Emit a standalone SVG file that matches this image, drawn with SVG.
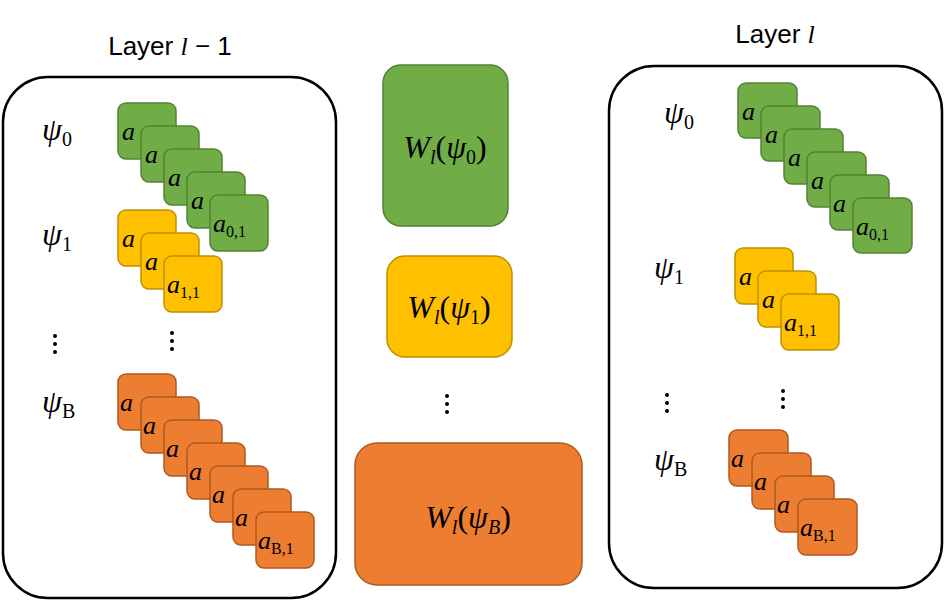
<svg xmlns="http://www.w3.org/2000/svg" width="947" height="606" viewBox="0 0 947 606">
<style>
.panel{fill:#fff;stroke:#000;stroke-width:2.5}
.g{fill:#70AD47;stroke:#548235;stroke-width:1.5}
.y{fill:#FFC000;stroke:#BF9000;stroke-width:1.5}
.o{fill:#ED7D31;stroke:#AE5A21;stroke-width:1.5}
.m{font-family:"Liberation Serif","DejaVu Serif",serif;font-style:italic;fill:#000}
.s{font-family:"Liberation Serif","DejaVu Serif",serif;font-style:normal}
.t{font-family:"Liberation Sans",Arial,sans-serif;font-size:26px;fill:#000}
.a{font-size:26px}
.p{font-size:32px}
.d{fill:#000}
</style>
<defs>
<g id="dots"><circle cx="0" cy="0" r="2"/><circle cx="0" cy="8" r="2"/><circle cx="0" cy="16" r="2"/></g>
</defs>
<g id="connectors"></g>
<g id="layer-prev">
<rect class="panel" x="3" y="77" width="333" height="521" rx="45"/>
<text class="t" x="170" y="55" text-anchor="middle">Layer <tspan class="m">l</tspan> − 1</text>
<text class="m p" x="42" y="140">ψ<tspan class="s" font-size="20" dy="6">0</tspan></text>
<text class="m p" x="42" y="245">ψ<tspan class="s" font-size="20" dy="6">1</tspan></text>
<text class="m p" x="42" y="412">ψ<tspan class="s" font-size="20" dy="6">B</tspan></text>
<use href="#dots" x="55" y="336" class="d"/>
<use href="#dots" x="172" y="333" class="d"/>
<g id="prev-green">
<rect class="g" x="118" y="103" width="58" height="56" rx="8"/><text class="m a" x="122" y="140">a</text>
<rect class="g" x="141" y="126" width="58" height="56" rx="8"/><text class="m a" x="145" y="163">a</text>
<rect class="g" x="164" y="149" width="58" height="56" rx="8"/><text class="m a" x="168" y="186">a</text>
<rect class="g" x="187" y="172" width="58" height="56" rx="8"/><text class="m a" x="191" y="209">a</text>
<rect class="g" x="210" y="195" width="58" height="56" rx="8"/><text class="m a" x="213" y="232">a<tspan class="s" font-size="16" dy="5">0,1</tspan></text>
</g>
<g id="prev-yellow">
<rect class="y" x="118" y="210" width="58" height="56" rx="8"/><text class="m a" x="122" y="247">a</text>
<rect class="y" x="141" y="233" width="58" height="56" rx="8"/><text class="m a" x="145" y="270">a</text>
<rect class="y" x="164" y="256" width="58" height="56" rx="8"/><text class="m a" x="167" y="293">a<tspan class="s" font-size="16" dy="5">1,1</tspan></text>
</g>
<g id="prev-orange">
<rect class="o" x="118" y="374" width="58" height="56" rx="8"/><text class="m a" x="120" y="411">a</text>
<rect class="o" x="141" y="397" width="58" height="56" rx="8"/><text class="m a" x="143" y="434">a</text>
<rect class="o" x="164" y="420" width="58" height="56" rx="8"/><text class="m a" x="166" y="457">a</text>
<rect class="o" x="187" y="443" width="58" height="56" rx="8"/><text class="m a" x="189" y="480">a</text>
<rect class="o" x="210" y="466" width="58" height="56" rx="8"/><text class="m a" x="212" y="503">a</text>
<rect class="o" x="233" y="489" width="58" height="56" rx="8"/><text class="m a" x="235" y="526">a</text>
<rect class="o" x="256" y="512" width="58" height="56" rx="8"/><text class="m a" x="258" y="549">a<tspan class="s" font-size="16" dy="5" font-style="italic">B</tspan><tspan class="s" font-size="16">,1</tspan></text>
</g>
</g>
<g id="w0"><rect class="g" x="383" y="65" width="125" height="161" rx="18"/><text class="m p" x="445" y="158" text-anchor="middle">W<tspan font-size="20" dy="6">l</tspan><tspan class="s" dy="-6">(</tspan>ψ<tspan class="s" font-size="20" dy="6">0</tspan><tspan class="s" dy="-6">)</tspan></text></g>
<g id="w1"><rect class="y" x="387" y="256" width="125" height="101" rx="18"/><text class="m p" x="449" y="318" text-anchor="middle">W<tspan font-size="20" dy="6">l</tspan><tspan class="s" dy="-6">(</tspan>ψ<tspan class="s" font-size="20" dy="6">1</tspan><tspan class="s" dy="-6">)</tspan></text></g>
<use href="#dots" x="447" y="396" class="d"/>
<g id="wB"><rect class="o" x="355" y="443" width="227" height="142" rx="22"/><text class="m p" x="468" y="528" text-anchor="middle">W<tspan font-size="20" dy="6">l</tspan><tspan class="s" dy="-6">(</tspan>ψ<tspan font-size="20" dy="6">B</tspan><tspan class="s" dy="-6">)</tspan></text></g>
<g id="layer-l">
<rect class="panel" x="609" y="66" width="333" height="522" rx="45"/>
<text class="t" x="775" y="43" text-anchor="middle">Layer <tspan class="m">l</tspan></text>
<text class="m p" x="664" y="123">ψ<tspan class="s" font-size="20" dy="6">0</tspan></text>
<text class="m p" x="654" y="278">ψ<tspan class="s" font-size="20" dy="6">1</tspan></text>
<text class="m p" x="654" y="470">ψ<tspan class="s" font-size="20" dy="6">B</tspan></text>
<use href="#dots" x="667" y="395" class="d"/>
<use href="#dots" x="783" y="391" class="d"/>
<g id="l-green">
<rect class="g" x="738" y="83" width="59" height="55" rx="8"/><text class="m a" x="742" y="120">a</text>
<rect class="g" x="761" y="106" width="59" height="55" rx="8"/><text class="m a" x="765" y="143">a</text>
<rect class="g" x="784" y="129" width="59" height="55" rx="8"/><text class="m a" x="788" y="166">a</text>
<rect class="g" x="807" y="152" width="59" height="55" rx="8"/><text class="m a" x="811" y="189">a</text>
<rect class="g" x="830" y="175" width="59" height="55" rx="8"/><text class="m a" x="833" y="212">a</text>
<rect class="g" x="853" y="198" width="59" height="55" rx="8"/><text class="m a" x="856" y="235">a<tspan class="s" font-size="16" dy="5">0,1</tspan></text>
</g>
<g id="l-yellow">
<rect class="y" x="735" y="248" width="58" height="56" rx="8"/><text class="m a" x="739" y="285">a</text>
<rect class="y" x="758" y="271" width="58" height="56" rx="8"/><text class="m a" x="762" y="308">a</text>
<rect class="y" x="781" y="294" width="58" height="56" rx="8"/><text class="m a" x="784" y="331">a<tspan class="s" font-size="16" dy="5">1,1</tspan></text>
</g>
<g id="l-orange">
<rect class="o" x="729" y="430" width="59" height="56" rx="8"/><text class="m a" x="731" y="467">a</text>
<rect class="o" x="752" y="453" width="59" height="56" rx="8"/><text class="m a" x="754" y="490">a</text>
<rect class="o" x="775" y="476" width="59" height="56" rx="8"/><text class="m a" x="777" y="513">a</text>
<rect class="o" x="798" y="499" width="59" height="56" rx="8"/><text class="m a" x="800" y="536">a<tspan class="s" font-size="16" dy="5" font-style="italic">B</tspan><tspan class="s" font-size="16">,1</tspan></text>
</g>
</g>
</svg>
